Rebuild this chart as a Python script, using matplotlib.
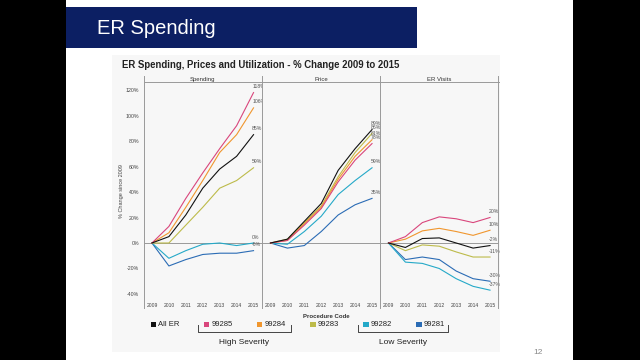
import matplotlib.pyplot as plt
from matplotlib.patches import Rectangle
from matplotlib.lines import Line2D

plt.rcParams['font.family'] = ['Liberation Sans', 'DejaVu Sans']

years = [2009, 2010, 2011, 2012, 2013, 2014, 2015]
codes = ['All ER', '99285', '99284', '99283', '99282', '99281']
colors = ['#111111', '#d9467c', '#f0962e', '#bdbb4a', '#25a9c8', '#2b6cb5']
panel_titles = ['Spending', 'Price', 'ER Visits']

# % change since 2009, one row per code (same order as codes)
spending = [
    [0, 5, 22, 43, 58, 68, 85],
    [0, 13, 35, 55, 74, 92, 118],
    [0, 8, 28, 49, 71, 85, 106],
    [0, 0, 14, 28, 43, 49, 59],
    [0, -12, -6, -1, 0, -2, 0],
    [0, -18, -13, -9, -8, -8, -6],
]
price = [
    [0, 3, 17, 31, 57, 74, 89],
    [0, 2, 14, 27, 48, 65, 78],
    [0, 2, 15, 28, 50, 68, 81],
    [0, 3, 16, 29, 52, 71, 86],
    [0, -1, 9, 21, 38, 49, 59],
    [0, -4, -2, 9, 22, 30, 35],
]
visits = [
    [0, -3.5, 3.5, 4, 0, -4, -2],
    [0, 5, 16, 20.5, 19, 16, 20],
    [0, 3, 9.5, 11.5, 9, 6, 10],
    [0, -6, -1.5, -2.5, -7, -11, -11],
    [0, -15, -16, -20, -28, -34, -37],
    [0, -13, -11, -13, -22, -28, -30],
]
yticks = [-40, -20, 0, 20, 40, 60, 80, 100, 120]

W, H = 640, 360


def fx(px):
    return px / W


def fy(py):
    return 1 - py / H


fig = plt.figure(figsize=(6.4, 3.6), dpi=100)
fig.patch.set_facecolor('black')

# slide
fig.patches.append(Rectangle((fx(66), 0), fx(573) - fx(66), 1, transform=fig.transFigure,
                             facecolor='white', edgecolor='none', zorder=-3))
fig.patches.append(Rectangle((fx(66), fy(48)), fx(417) - fx(66), (48 - 7) / H,
                             transform=fig.transFigure, facecolor='#0c1f63',
                             edgecolor='none', zorder=-2))
fig.text(fx(97), fy(28), 'ER Spending', color='white', fontsize=14.5, va='center', zorder=2)
fig.text(fx(538), fy(352), '12', color='#888888', fontsize=6, ha='center', va='center')

# chart box
fig.patches.append(Rectangle((fx(112), fy(352)), (500 - 112) / W, (352 - 55) / H,
                             transform=fig.transFigure, facecolor='#f7f7f7',
                             edgecolor='none', zorder=-2))
fig.text(fx(122), fy(65), 'ER Spending, Prices and Utilization - % Change 2009 to 2015',
         fontsize=6.9, fontweight='bold', color='#222222', va='center', zorder=3)

panel_left = [143.5, 262, 380]
top, bottom = 82, 301
for i, (data, title) in enumerate(zip([spending, price, visits], panel_titles)):
    ax = fig.add_axes([fx(panel_left[i]), fy(bottom), 118.5 / W, (bottom - top) / H])
    ax.set_zorder(2)
    ax.set_facecolor('#f7f7f7')
    ax.set_xlim(2008.5, 2015.5)
    ax.set_ylim(-45.5, 126.3)
    ax.axhline(0, color='#9a9a9a', lw=0.7, zorder=1)
    for row, c in zip(reversed(data), reversed(colors)):
        ax.plot(years, row, color=c, lw=0.8, zorder=2)
        ax.annotate(f'{round(row[-1])}%', (years[-1], row[-1]), xytext=(-1, 2.5),
                    textcoords='offset points', fontsize=3.7, color='#555555',
                    ha='left', va='bottom')
    for s in ax.spines.values():
        s.set_visible(False)
    ax.spines['top'].set_visible(True)
    ax.spines['top'].set_color('#9a9a9a')
    ax.spines['top'].set_linewidth(0.7)
    ax.set_xticks(years)
    ax.set_xticklabels([str(y) for y in years])
    ax.tick_params(axis='x', length=0, pad=1.5, labelsize=3.6, labelcolor='#444444')
    if i == 0:
        ax.set_yticks(yticks)
        ax.set_yticklabels([f'{t}%' for t in yticks])
        ax.tick_params(axis='y', length=0, pad=3, labelsize=3.8, labelcolor='#444444')
        ax.set_ylabel('% Change since 2009', fontsize=4, color='#444444', labelpad=1)
    else:
        ax.set_yticks([])
    ax.set_title(title, fontsize=4.3, color='#333333', pad=0.8)

# panel separators
for x in panel_left + [498]:
    fig.add_artist(Line2D([fx(x), fx(x)], [fy(76), fy(308)], color='#9a9a9a', lw=0.7,
                          zorder=3))

# legend
fig.text(fx(326), fy(316), 'Procedure Code', fontsize=4.3, fontweight='bold',
         color='#333333', ha='center', va='center')
for i, (name, c) in enumerate(zip(codes, colors)):
    x0 = 150.7 + i * 53.1
    fig.patches.append(Rectangle((fx(x0), fy(327)), 5.5 / W, 5.5 / H,
                                 transform=fig.transFigure, facecolor=c,
                                 edgecolor='none', zorder=3))
    fig.text(fx(x0 + 7.5), fy(324.3), name, fontsize=5.5, color='#222222',
             va='center', zorder=3)

for (x1, x2, label) in [(198, 291, 'High Severity'), (358, 448, 'Low Severity')]:
    fig.add_artist(Line2D([fx(x1), fx(x1), fx(x2), fx(x2)],
                          [fy(325), fy(332), fy(332), fy(325)], color='#444444', lw=0.7))
    fig.text(fx((x1 + x2) / 2), fy(343), label, fontsize=6, color='#222222',
             ha='center', va='center')

fig.savefig('out.png', dpi=100, facecolor=fig.get_facecolor())
